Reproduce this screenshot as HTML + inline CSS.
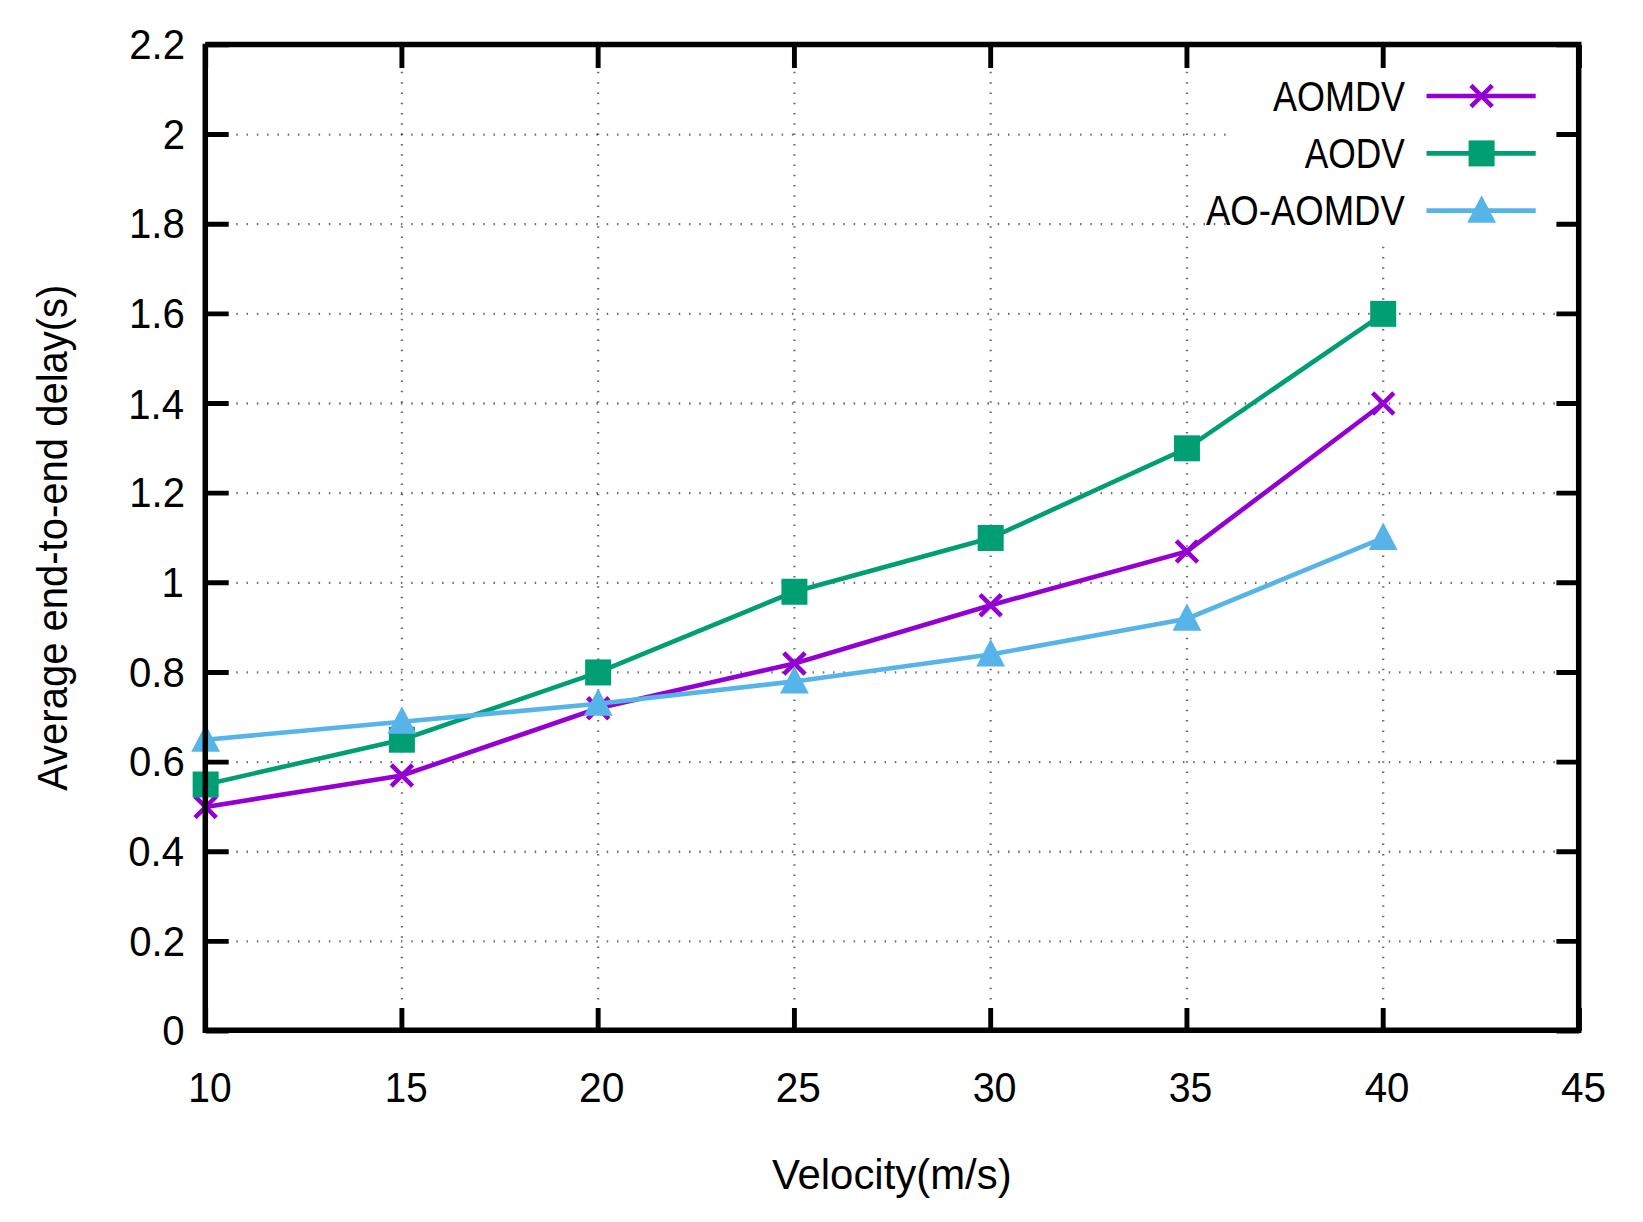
<!DOCTYPE html>
<html lang="en">
<head>
<meta charset="utf-8">
<title>Average end-to-end delay vs velocity</title>
<style>
html,body{margin:0;padding:0;background:#fff;}
body{width:1643px;height:1222px;overflow:hidden;}
svg{display:block;}
text{font-family:"Liberation Sans",sans-serif;fill:#000;}
</style>
</head>
<body>
<svg width="1643" height="1222" viewBox="0 0 1643 1222">
<rect x="0" y="0" width="1643" height="1222" fill="#ffffff"/>
<g fill="none" stroke="#000000" stroke-opacity="0.56" stroke-width="2.3" stroke-dasharray="1.5 8.79">
<path d="M205.38 941.4 H1578.7"/>
<path d="M205.38 851.75 H1578.7"/>
<path d="M205.38 762.1 H1578.7"/>
<path d="M205.38 672.45 H1578.7"/>
<path d="M205.38 582.8 H1578.7"/>
<path d="M205.38 493.15 H1578.7"/>
<path d="M205.38 403.5 H1578.7"/>
<path d="M205.38 313.85 H1578.7"/>
<path d="M205.38 224.2 H1578.7"/>
<path d="M205.38 134.55 H1578.7"/>
<path d="M401.9 1030.32 V44.5"/>
<path d="M598.16 1030.32 V44.5"/>
<path d="M794.42 1030.32 V44.5"/>
<path d="M990.68 1030.32 V44.5"/>
<path d="M1186.94 1030.32 V44.5"/>
<path d="M1383.2 1030.32 V44.5"/>
</g>
<g>
<polyline points="205.64,806.92 401.9,775.55 598.16,708.31 794.42,663.48 990.68,605.21 1186.94,551.42 1383.2,403.5" fill="none" stroke="#9400d3" stroke-width="4.6" stroke-linejoin="miter" stroke-linecap="butt"/>
<g>
<path d="M194.99 796.27L216.29 817.57M194.99 817.57L216.29 796.27" fill="none" stroke="#9400d3" stroke-width="4.6"/>
<path d="M391.25 764.9L412.55 786.2M391.25 786.2L412.55 764.9" fill="none" stroke="#9400d3" stroke-width="4.6"/>
<path d="M587.51 697.66L608.81 718.96M587.51 718.96L608.81 697.66" fill="none" stroke="#9400d3" stroke-width="4.6"/>
<path d="M783.77 652.83L805.07 674.13M783.77 674.13L805.07 652.83" fill="none" stroke="#9400d3" stroke-width="4.6"/>
<path d="M980.03 594.56L1001.33 615.86M980.03 615.86L1001.33 594.56" fill="none" stroke="#9400d3" stroke-width="4.6"/>
<path d="M1176.29 540.77L1197.59 562.07M1176.29 562.07L1197.59 540.77" fill="none" stroke="#9400d3" stroke-width="4.6"/>
<path d="M1372.55 392.85L1393.85 414.15M1372.55 414.15L1393.85 392.85" fill="none" stroke="#9400d3" stroke-width="4.6"/>
</g>
</g>
<g>
<polyline points="205.64,784.51 401.9,739.69 598.16,672.45 794.42,591.76 990.68,537.97 1186.94,448.32 1383.2,313.85" fill="none" stroke="#009e73" stroke-width="4.6" stroke-linejoin="miter" stroke-linecap="butt"/>
<g>
<rect x="192.64" y="771.51" width="26" height="26" fill="#009e73"/>
<rect x="388.9" y="726.69" width="26" height="26" fill="#009e73"/>
<rect x="585.16" y="659.45" width="26" height="26" fill="#009e73"/>
<rect x="781.42" y="578.76" width="26" height="26" fill="#009e73"/>
<rect x="977.68" y="524.97" width="26" height="26" fill="#009e73"/>
<rect x="1173.94" y="435.32" width="26" height="26" fill="#009e73"/>
<rect x="1370.2" y="300.85" width="26" height="26" fill="#009e73"/>
</g>
</g>
<g>
<polyline points="205.64,739.69 401.9,721.76 598.16,703.83 794.42,681.41 990.68,654.52 1186.94,618.66 1383.2,537.97" fill="none" stroke="#56b4e9" stroke-width="4.6" stroke-linejoin="miter" stroke-linecap="butt"/>
<g>
<path d="M205.64 724.29L191.24 751.69L220.04 751.69Z" fill="#56b4e9"/>
<path d="M401.9 706.36L387.5 733.76L416.3 733.76Z" fill="#56b4e9"/>
<path d="M598.16 688.43L583.76 715.83L612.56 715.83Z" fill="#56b4e9"/>
<path d="M794.42 666.01L780.02 693.41L808.82 693.41Z" fill="#56b4e9"/>
<path d="M990.68 639.12L976.28 666.52L1005.08 666.52Z" fill="#56b4e9"/>
<path d="M1186.94 603.26L1172.54 630.66L1201.34 630.66Z" fill="#56b4e9"/>
<path d="M1383.2 522.57L1368.8 549.97L1397.6 549.97Z" fill="#56b4e9"/>
</g>
</g>
<rect x="1230" y="47.2" width="326" height="194.8" fill="#ffffff"/>
<path d="M1426.5 96 H1535.7" fill="none" stroke="#9400d3" stroke-width="4.6"/>
<path d="M1470.95 85.35L1492.25 106.65M1470.95 106.65L1492.25 85.35" fill="none" stroke="#9400d3" stroke-width="4.6"/>
<path d="M1426.5 153.4 H1535.7" fill="none" stroke="#009e73" stroke-width="4.6"/>
<rect x="1468.6" y="140.4" width="26" height="26" fill="#009e73"/>
<path d="M1426.5 210.65 H1535.7" fill="none" stroke="#56b4e9" stroke-width="4.6"/>
<path d="M1481.6 195.25L1467.2 222.65L1496 222.65Z" fill="#56b4e9"/>
<g fill="none" stroke="#000000" stroke-width="5.5" stroke-linecap="butt" stroke-linejoin="miter">
<path d="M205.3 43.8 V1030.3 H1578.7 V44.5 H205.3"/>
</g>
<g fill="none" stroke="#000000" stroke-width="4.9" stroke-linecap="butt">
<path d="M205.64 1031.05 h23.06 M1579.46 1031.05 h-23.06"/>
<path d="M205.64 941.4 h23.06 M1579.46 941.4 h-23.06"/>
<path d="M205.64 851.75 h23.06 M1579.46 851.75 h-23.06"/>
<path d="M205.64 762.1 h23.06 M1579.46 762.1 h-23.06"/>
<path d="M205.64 672.45 h23.06 M1579.46 672.45 h-23.06"/>
<path d="M205.64 582.8 h23.06 M1579.46 582.8 h-23.06"/>
<path d="M205.64 493.15 h23.06 M1579.46 493.15 h-23.06"/>
<path d="M205.64 403.5 h23.06 M1579.46 403.5 h-23.06"/>
<path d="M205.64 313.85 h23.06 M1579.46 313.85 h-23.06"/>
<path d="M205.64 224.2 h23.06 M1579.46 224.2 h-23.06"/>
<path d="M205.64 134.55 h23.06 M1579.46 134.55 h-23.06"/>
<path d="M205.64 44.9 h23.06 M1579.46 44.9 h-23.06"/>
<path d="M205.64 1031.05 v-23.06 M205.64 44.9 v23.06"/>
<path d="M401.9 1031.05 v-23.06 M401.9 44.9 v23.06"/>
<path d="M598.16 1031.05 v-23.06 M598.16 44.9 v23.06"/>
<path d="M794.42 1031.05 v-23.06 M794.42 44.9 v23.06"/>
<path d="M990.68 1031.05 v-23.06 M990.68 44.9 v23.06"/>
<path d="M1186.94 1031.05 v-23.06 M1186.94 44.9 v23.06"/>
<path d="M1383.2 1031.05 v-23.06 M1383.2 44.9 v23.06"/>
<path d="M1579.46 1031.05 v-23.06 M1579.46 44.9 v23.06"/>
</g>
<text x="162.22" y="1044.95" font-size="42" text-anchor="start" textLength="22.31" lengthAdjust="spacingAndGlyphs">0</text>
<text x="129.27" y="956.3" font-size="42" text-anchor="start" textLength="55.78" lengthAdjust="spacingAndGlyphs">0.2</text>
<text x="128.31" y="865.65" font-size="42" text-anchor="start" textLength="55.78" lengthAdjust="spacingAndGlyphs">0.4</text>
<text x="129.03" y="776" font-size="42" text-anchor="start" textLength="55.78" lengthAdjust="spacingAndGlyphs">0.6</text>
<text x="129.03" y="687.25" font-size="42" text-anchor="start" textLength="55.78" lengthAdjust="spacingAndGlyphs">0.8</text>
<text x="161.5" y="596.7" font-size="42" text-anchor="start" textLength="22.31" lengthAdjust="spacingAndGlyphs">1</text>
<text x="129.27" y="507.05" font-size="42" text-anchor="start" textLength="55.78" lengthAdjust="spacingAndGlyphs">1.2</text>
<text x="128.31" y="418.6" font-size="42" text-anchor="start" textLength="55.78" lengthAdjust="spacingAndGlyphs">1.4</text>
<text x="129.03" y="327.75" font-size="42" text-anchor="start" textLength="55.78" lengthAdjust="spacingAndGlyphs">1.6</text>
<text x="129.03" y="238.1" font-size="42" text-anchor="start" textLength="55.78" lengthAdjust="spacingAndGlyphs">1.8</text>
<text x="162.7" y="149.45" font-size="42" text-anchor="start" textLength="22.31" lengthAdjust="spacingAndGlyphs">2</text>
<text x="129.27" y="59.4" font-size="42" text-anchor="start" textLength="55.78" lengthAdjust="spacingAndGlyphs">2.2</text>
<text x="188.29" y="1102" font-size="42" text-anchor="start" textLength="43.31" lengthAdjust="spacingAndGlyphs">10</text>
<text x="384.82" y="1102" font-size="42" text-anchor="start" textLength="42.86" lengthAdjust="spacingAndGlyphs">15</text>
<text x="579.06" y="1102" font-size="42" text-anchor="start" textLength="45.41" lengthAdjust="spacingAndGlyphs">20</text>
<text x="775.67" y="1102" font-size="42" text-anchor="start" textLength="45.09" lengthAdjust="spacingAndGlyphs">25</text>
<text x="972.66" y="1102" font-size="42" text-anchor="start" textLength="43.86" lengthAdjust="spacingAndGlyphs">30</text>
<text x="1168.82" y="1102" font-size="42" text-anchor="start" textLength="43.59" lengthAdjust="spacingAndGlyphs">35</text>
<text x="1364.64" y="1102" font-size="42" text-anchor="start" textLength="44.7" lengthAdjust="spacingAndGlyphs">40</text>
<text x="1560.94" y="1102" font-size="42" text-anchor="start" textLength="45.02" lengthAdjust="spacingAndGlyphs">45</text>
<text x="1273.09" y="110.6" font-size="42" text-anchor="start" textLength="131.84" lengthAdjust="spacingAndGlyphs">AOMDV</text>
<text x="1304.69" y="167.7" font-size="42" text-anchor="start" textLength="100.25" lengthAdjust="spacingAndGlyphs">AODV</text>
<text x="1205.98" y="225" font-size="42" text-anchor="start" textLength="198.88" lengthAdjust="spacingAndGlyphs">AO-AOMDV</text>
<text x="771.9" y="1188.8" font-size="42" text-anchor="start" textLength="239.72" lengthAdjust="spacingAndGlyphs">Velocity(m/s)</text>
<text x="66.8" y="790.84" font-size="42" text-anchor="start" textLength="506.26" lengthAdjust="spacingAndGlyphs" transform="rotate(-90 66.8 790.84)">Average end-to-end delay(s)</text>
</svg>
</body>
</html>
